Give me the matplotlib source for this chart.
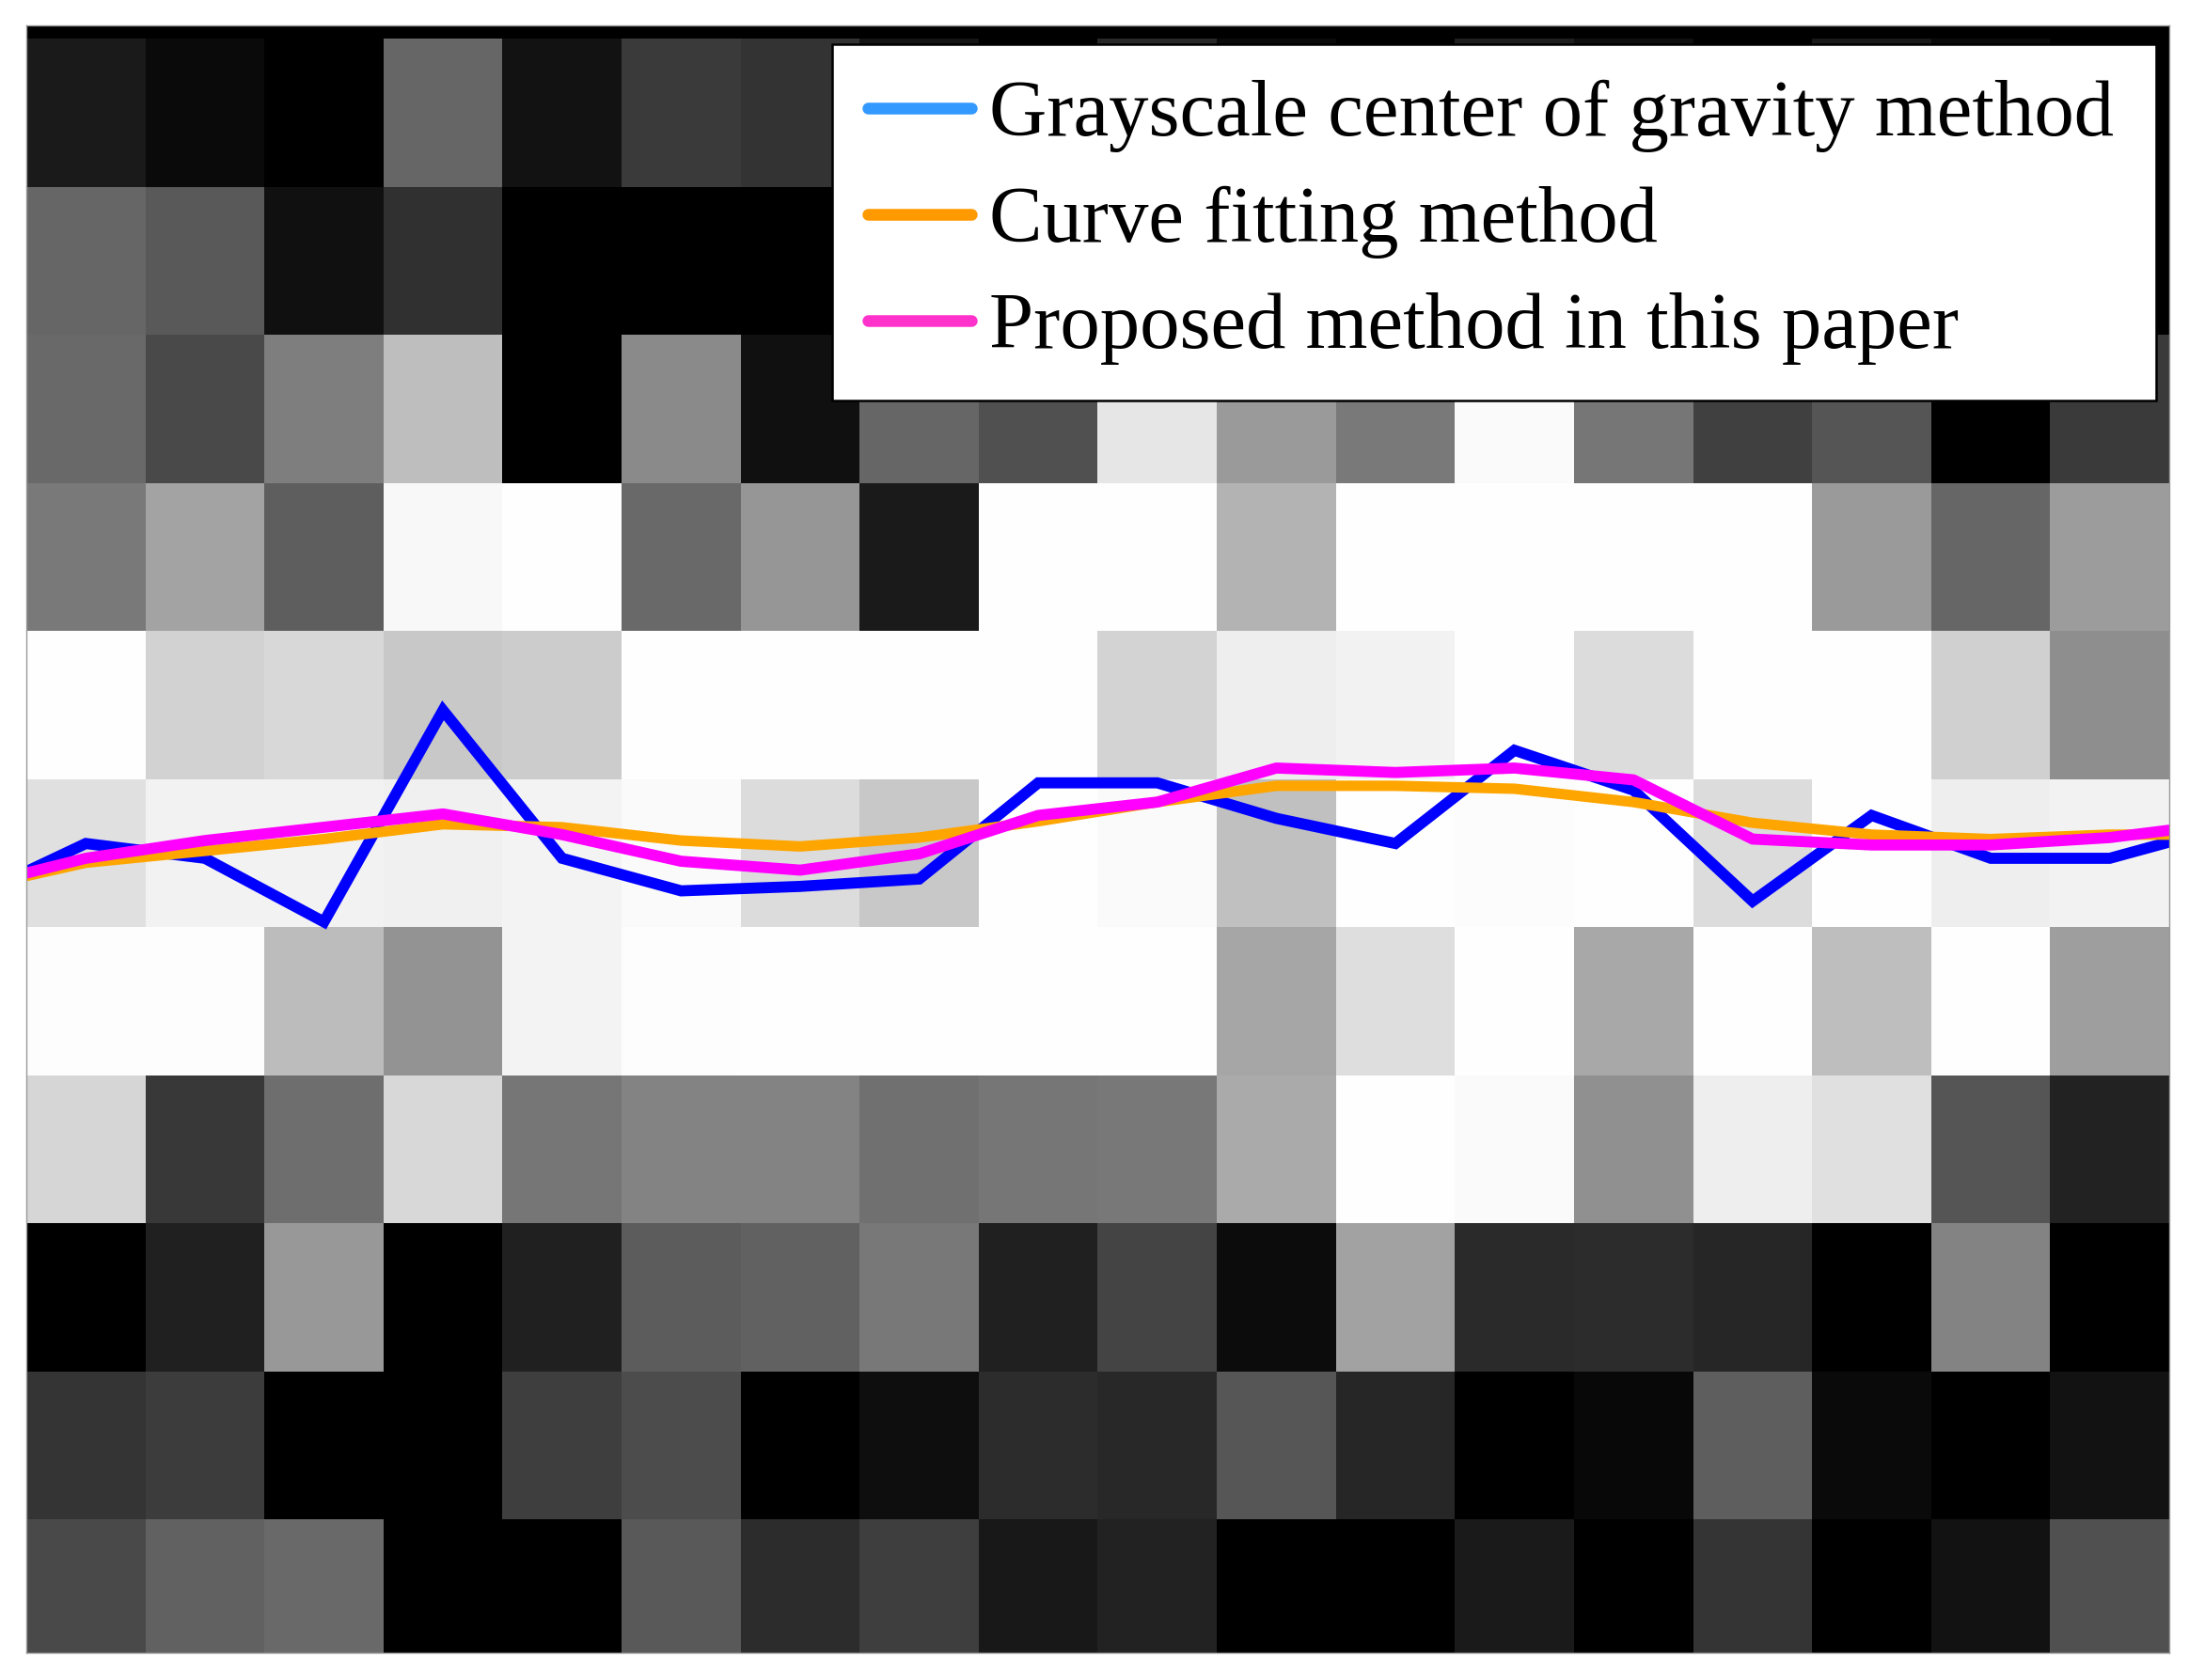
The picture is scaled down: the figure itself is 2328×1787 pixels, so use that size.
import numpy as np
import matplotlib
matplotlib.use("Agg")
import matplotlib.pyplot as plt
from matplotlib.lines import Line2D

# gray levels of the image patch (rows top to bottom, 18 columns)
# rows 0 and 11 are only partly visible; rows 1-2 cols 7-16 sit under the legend (guessed dark)
row0 = [0, 0, 0, 0, 0, 0, 0, 0, 0, 0, 0, 0, 0, 0, 0, 0, 0, 0]
row1 = [26, 10, 0, 102, 18, 58, 51, 20, 0, 40, 10, 0, 30, 15, 0, 25, 10, 0]
row2 = [102, 90, 16, 48, 0, 0, 0, 0, 10, 0, 20, 0, 5, 30, 0, 0, 15, 0]
row3 = [106, 74, 126, 190, 0, 138, 16, 102, 80, 230, 154, 122, 250, 118, 64, 85, 0, 58]
row4 = [122, 164, 94, 248, 254, 106, 150, 26, 254, 254, 180, 254, 254, 254, 254, 154, 102, 156]
row5 = [254, 210, 216, 200, 204, 254, 254, 254, 254, 212, 238, 242, 254, 220, 254, 254, 208, 142]
row6 = [224, 242, 242, 240, 244, 250, 220, 200, 254, 250, 192, 254, 252, 254, 220, 254, 238, 242]
row7 = [253, 253, 188, 148, 244, 253, 254, 254, 254, 254, 166, 222, 254, 168, 254, 190, 254, 158]
row8 = [214, 56, 110, 216, 118, 132, 132, 112, 118, 120, 170, 254, 250, 144, 238, 224, 85, 34]
row9 = [0, 32, 152, 0, 32, 92, 98, 120, 32, 68, 12, 162, 42, 44, 38, 0, 132, 0]
row10 = [52, 60, 0, 0, 62, 76, 0, 14, 44, 40, 86, 38, 0, 8, 94, 10, 0, 18]
row11 = [74, 98, 106, 0, 0, 90, 44, 62, 24, 34, 0, 0, 26, 0, 52, 0, 18, 80]

# stripe center estimates per column (x = -1 .. 18, ends run past the patch edges)
x_pos = np.arange(-1, 19)
gray_cog = [6.31, 5.93, 6.03, 6.46, 5.03, 6.03, 6.25, 6.22, 6.17, 5.52,
            5.52, 5.76, 5.93, 5.30, 5.57, 6.32, 5.74, 6.03, 6.03, 5.81]
curve_fit = [6.24, 6.06, 5.98, 5.90, 5.80, 5.82, 5.91, 5.95, 5.89, 5.78,
             5.65, 5.54, 5.54, 5.56, 5.65, 5.79, 5.87, 5.90, 5.87, 5.87]
proposed = [6.23, 6.03, 5.91, 5.82, 5.73, 5.87, 6.05, 6.11, 6.00, 5.74,
            5.65, 5.42, 5.45, 5.42, 5.50, 5.90, 5.94, 5.94, 5.89, 5.79]

labels = ["Grayscale center of gravity method", "Curve fitting method",
          "Proposed method in this paper"]

img = np.array([row0, row1, row2, row3, row4, row5, row6, row7, row8, row9, row10, row11])

fig = plt.figure(figsize=(23.28, 17.87), dpi=100)
ax = fig.add_axes([28 / 2328, 29 / 1787, 2279 / 2328, 1731 / 1787])
ax.imshow(img, cmap="gray", vmin=0, vmax=255, aspect="auto", interpolation="nearest")

ax.plot(x_pos, gray_cog, color="#0000FF", lw=8.5, solid_joinstyle="miter")
ax.plot(x_pos, curve_fit, color="#FFA500", lw=8.0)
ax.plot(x_pos, proposed, color="#FF00FF", lw=8.5)

ax.set_xlim(-0.5, 17.5)
ax.set_ylim(11.4, 0.4)
ax.set_xticks([])
ax.set_yticks([])
for s in ax.spines.values():
    s.set_color("#999999")
    s.set_linewidth(1)

handles = [Line2D([], [], color=c, lw=9, solid_capstyle="round")
           for c in ["#3399FF", "#FF9900", "#FF33CC"]]
leg = fig.legend(handles, labels, loc="upper left",
                 bbox_to_anchor=(885 / 2328, 0.765, 1408 / 2328, 1 - 47 / 1787 - 0.765),
                 bbox_transform=fig.transFigure, mode="expand", borderaxespad=0,
                 prop={"family": "Liberation Serif", "size": 61},
                 handlelength=1.3, handletextpad=0.22, borderpad=0.45, labelspacing=0.42,
                 fancybox=False, framealpha=1, edgecolor="black")
leg.get_frame().set_linewidth(1.8)

fig.savefig("out.png", dpi=100)
